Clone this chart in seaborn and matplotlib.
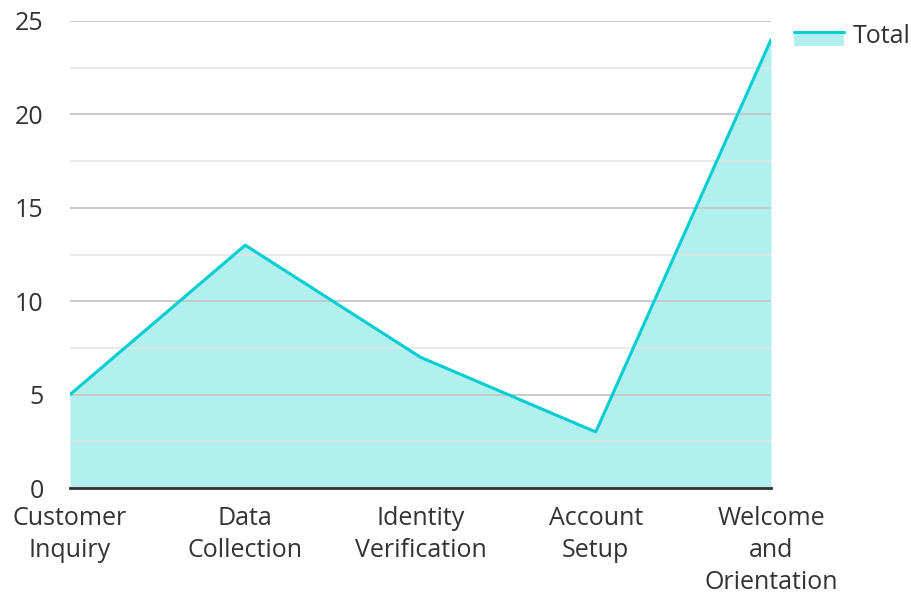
import matplotlib
matplotlib.use("Agg")
import matplotlib.pyplot as plt
import seaborn as sns
import pandas as pd
import numpy as np
from matplotlib.legend_handler import HandlerBase
from matplotlib.patches import Rectangle
from matplotlib.lines import Line2D

categories = ["Customer\nInquiry", "Data\nCollection", "Identity\nVerification",
              "Account\nSetup", "Welcome\nand\nOrientation"]
values = [5, 13, 7, 3, 24]
series_name = "Total"

LINE = "#00CED1"
FILL = "#B2EFEF"

sns.set_theme(style="white")
plt.rcParams['font.family'] = ['Open Sans', 'DejaVu Sans']

df = pd.DataFrame({"pos": np.arange(len(categories)), "value": values})

fig = plt.figure(figsize=(9.11, 5.92), dpi=100)
ax = fig.add_axes([70/911, 1-488/592, (771-70)/911, (488-21)/592])

ax.fill_between(df["pos"], df["value"], 0, color=FILL, linewidth=0, zorder=1)
sns.lineplot(data=df, x="pos", y="value", ax=ax, color=LINE, linewidth=2.2, zorder=3, legend=False)

ax.set_xlim(0, len(categories)-1)
ax.set_ylim(0, 25)
ax.set_yticks([0, 5, 10, 15, 20, 25])
ax.set_yticks([2.5, 7.5, 12.5, 17.5, 22.5], minor=True)
ax.set_xticks(df["pos"])
ax.set_xticklabels(categories)
ax.grid(True, which="major", axis="y", color="#c6c6c6", linewidth=1.3, zorder=2)
ax.grid(True, which="minor", axis="y", color="#e4e4e4", linewidth=1.1, zorder=2)
ax.set_axisbelow(False)
ax.grid(False, axis="x")
for s in ["top", "right", "left"]:
    ax.spines[s].set_visible(False)
ax.spines["bottom"].set_color("#333333")
ax.spines["bottom"].set_linewidth(2)
ax.spines["bottom"].set_zorder(4)
ax.tick_params(axis="both", which="both", length=0, labelsize=18, colors="#333333")
ax.tick_params(axis="y", pad=19)
ax.tick_params(axis="x", pad=13)
for t in ax.get_xticklabels():
    t.set_linespacing(1.37)
ax.set_xlabel("")
ax.set_ylabel("")


class AreaHandler(HandlerBase):
    def create_artists(self, legend, orig_handle, xdescent, ydescent, width, height, fontsize, trans):
        shift = 3.0
        top = -ydescent + height - shift
        r = Rectangle((-xdescent, -ydescent - shift), width, height, facecolor=FILL,
                      edgecolor="none", transform=trans)
        l = Line2D([-xdescent, -xdescent + width], [top - 1, top - 1], color=LINE,
                   linewidth=2.2, transform=trans)
        return [r, l]


handle = Rectangle((0, 0), 1, 1)
leg = fig.legend([handle], [series_name], handler_map={Rectangle: AreaHandler()},
                 loc="upper left", bbox_to_anchor=(794/911, 1-24/592), frameon=False,
                 fontsize=18, handlelength=2.0, handleheight=0.56, handletextpad=0.36,
                 borderpad=0, borderaxespad=0, labelcolor="#333333")

fig.savefig("out.png", dpi=100)
